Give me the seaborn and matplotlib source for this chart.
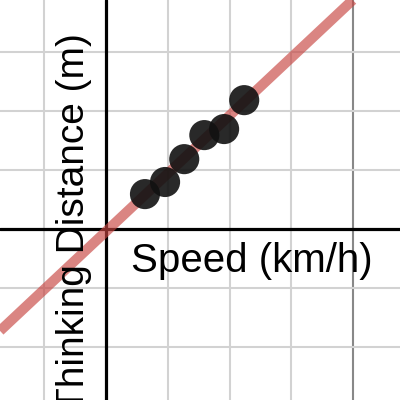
import matplotlib
matplotlib.use("Agg")
import matplotlib.pyplot as plt
import seaborn as sns
import numpy as np
import pandas as pd

speed = [12.6, 19.1, 25.3, 31.8, 38.2, 44.7]
distance = [2.37, 3.19, 4.74, 6.37, 6.78, 8.74]
fit_slope = 0.1966
fit_intercept = -0.16
x_label = "Speed (km/h)"
y_label = "Thinking Distance (m)"

sns.set_theme(style="white")
plt.rcParams['font.family'] = ['Liberation Sans', 'DejaVu Sans']

df = pd.DataFrame({"speed": speed, "distance": distance})

fig = plt.figure(figsize=(4, 4), dpi=100)
ax = fig.add_axes([0, 0, 1, 1])
ax.set_xlim(-34.3, 95.1)
ax.set_ylim(-11.59, 15.53)

xt = np.arange(-20, 100, 20)
yt = np.arange(-8, 16, 4)
for v in xt:
    if v == 0:
        continue
    ax.axvline(v, color="#888888" if v == 80 else "#d2d2d2", lw=1.5, zorder=0)
for v in yt:
    if v == 0:
        continue
    ax.axhline(v, color="#d2d2d2", lw=1.5, zorder=0)
ax.axvline(0, color="black", lw=2.3, zorder=1)
ax.axhline(0, color="black", lw=2.3, zorder=1)

ax.axline((0, fit_intercept), slope=fit_slope, color="#c74440", alpha=0.65,
          lw=7.3, zorder=2, solid_capstyle="butt")
sns.scatterplot(data=df, x="speed", y="distance", ax=ax, s=470, color="#111111",
                alpha=0.9, edgecolor="none", zorder=3, legend=False)

ax.set_xticks([])
ax.set_yticks([])
ax.set_xlabel("")
ax.set_ylabel("")
for s in ax.spines.values():
    s.set_visible(False)

fig.text(131 / 400, 1 - 272 / 400, x_label, fontsize=29, ha="left", va="baseline",
         color="black")
fig.text(84 / 400, 1 - 33 / 400, y_label, fontsize=28, ha="right", va="baseline",
         rotation=90, rotation_mode="anchor", color="black")

fig.savefig("out.png", dpi=100)
